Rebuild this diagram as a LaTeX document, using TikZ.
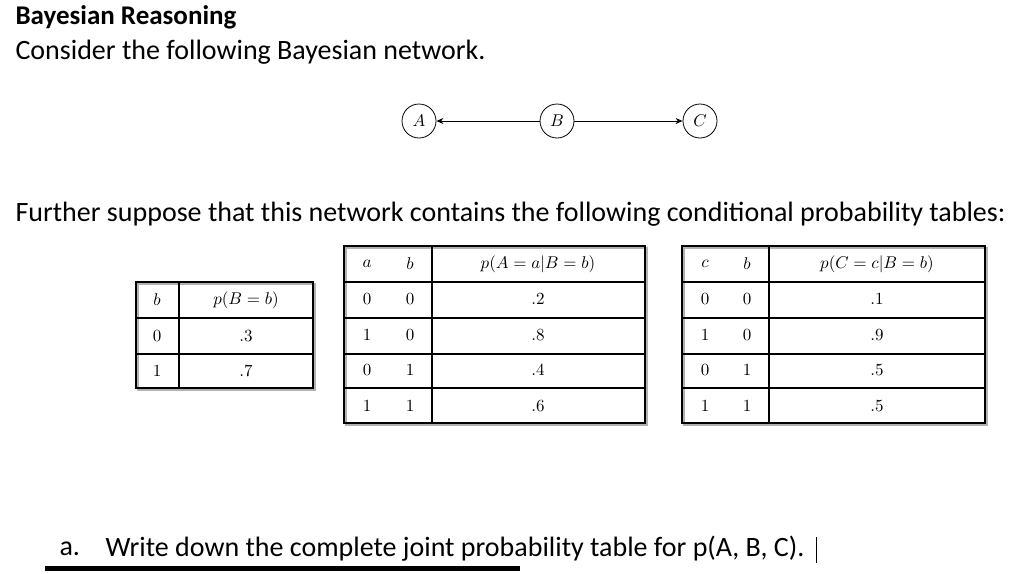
\documentclass[tikz,border=0pt]{standalone}
\usepackage{graphicx}
\usepackage{fontspec}
\setmainfont{Carlito}
\usetikzlibrary{arrows.meta}
\newcommand\mymath[1]{\scalebox{1.7}{$#1$}}
\begin{document}
\begin{tikzpicture}[x=1pt,y=-1pt,
  nd/.style={circle,draw,thick,minimum size=34pt,inner sep=0pt},
  arr/.style={-{Stealth[length=7pt,width=6pt]},line width=1pt},
  tb/.style={line width=1.3pt},
  cell/.style={anchor=center},
  txt/.style={anchor=west,font=\fontsize{28}{28}\selectfont}]
\useasboundingbox (0,0) rectangle (1024,573);
\node[txt,font=\fontsize{27}{27}\selectfont\bfseries] (t1) at (12,17) {Bayesian Reasoning};
\node[txt] (t2) at (12,52) {Consider the following Bayesian network.};
\node[txt] (t3) at (12,214) {Further suppose that this network contains the following conditional probability tables:};
\node[txt] (t4) at (56,549) {a.};
\node[txt] (t5) at (102,549) {Write down the complete joint probability table for p(A, B, C).};
\draw[line width=1pt] (816,537) -- (816,563);
\fill (45,566) rectangle (520,571);
% network
\node[nd] (A) at (419,121) {\mymath{A}};
\node[nd] (B) at (557,121) {\mymath{B}};
\node[nd] (C) at (700,121) {\mymath{C}};
\draw[arr] (B) -- (A);
\draw[arr] (B) -- (C);
% table 1
\begin{scope}[tb]
\draw[gray!60] (138,284) rectangle (315,390);
\draw (136,282) rectangle (313,388);
\draw (179,282) -- (179,388);
\draw (136,318) -- (313,318);
\draw (136,354) -- (313,354);
\end{scope}
\node[cell] (h11) at (157,300) {\mymath{b}};
\node[cell] (h12) at (246,300) {\mymath{p(B=b)}};
\node[cell] (c11) at (157,336) {\mymath{0}};
\node[cell] (c12) at (246,336) {\mymath{.3}};
\node[cell] (c21) at (157,371) {\mymath{1}};
\node[cell] (c22) at (246,371) {\mymath{.7}};
% table 2
\begin{scope}[tb]
\draw[gray!60] (346,248) rectangle (647,425);
\draw (344,246) rectangle (645,423);
\draw (432,246) -- (432,423);
\foreach \y in {282,318,354,388} \draw (344,\y) -- (645,\y);
\end{scope}
\node[cell] (a0) at (367,264) {\mymath{a}};
\node[cell] (b0) at (410,264) {\mymath{b}};
\node[cell] (p0) at (538,264) {\mymath{p(A=a|B=b)}};
\foreach \a/\b/\p [count=\i] in {0/0/.2,1/0/.8,0/1/.4,1/1/.6}{
  \node[cell] (a\i) at (367,264+35.5*\i) {\mymath{\a}};
  \node[cell] (b\i) at (410,264+35.5*\i) {\mymath{\b}};
  \node[cell] (p\i) at (538,264+35.5*\i) {\mymath{\p}};
}
% table 3
\begin{scope}[tb]
\draw[gray!60] (684,248) rectangle (987,425);
\draw (682,246) rectangle (985,423);
\draw (769,246) -- (769,423);
\foreach \y in {282,318,354,388} \draw (682,\y) -- (985,\y);
\end{scope}
\node[cell] (cc0) at (705,264) {\mymath{c}};
\node[cell] (cb0) at (747,264) {\mymath{b}};
\node[cell] (cp0) at (877,264) {\mymath{p(C=c|B=b)}};
\foreach \a/\b/\p [count=\i] in {0/0/.1,1/0/.9,0/1/.5,1/1/.5}{
  \node[cell] (cc\i) at (705,264+35.5*\i) {\mymath{\a}};
  \node[cell] (cb\i) at (747,264+35.5*\i) {\mymath{\b}};
  \node[cell] (cp\i) at (877,264+35.5*\i) {\mymath{\p}};
}
\end{tikzpicture}
\end{document}
